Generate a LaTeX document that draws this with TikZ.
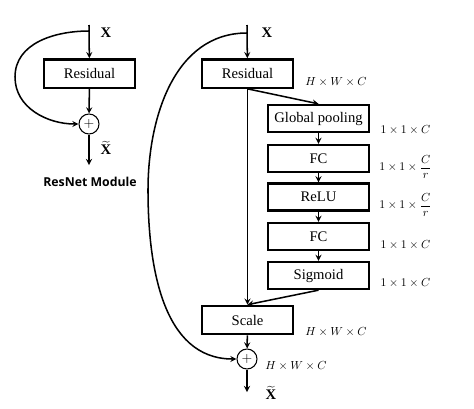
\documentclass[tikz,border=0pt]{standalone}
\usepackage{fontspec}
\usepackage{amsmath}
\setmainfont{Liberation Serif}
\newfontfamily\modfont{Open Sans}
\usetikzlibrary{calc}
\usetikzlibrary{positioning}

\begin{document}
\begin{tikzpicture}[x=0.03cm, y=-0.03cm, >=stealth,
    box/.style={draw, line width=2pt, minimum width=2.73cm, minimum height=0.85cm,
        inner sep=0pt, font=\fontsize{12.5}{14}\selectfont},
    wbox/.style={box, minimum width=3.03cm, minimum height=0.81cm},
    sumnode/.style={draw, circle, line width=0.9pt, minimum size=0.6cm, inner sep=0pt,
        font=\fontsize{12}{14}\selectfont},
    dims/.style={font=\fontsize{10}{12}\selectfont},
    tag/.style={inner sep=1pt, font=\fontsize{12.5}{14}\selectfont},
    line/.style={line width=1.3pt}]
    \useasboundingbox (0,0) rectangle (474,408);

    % ResNet module (left)
    \coordinate (ltop) at (89,25);
    \coordinate (lsplit) at (89,31);
    \coordinate (lbend) at (15,77);
    \coordinate (lout) at (89,165);
    \node[box] (lres) at (89.5,73.5) {Residual};
    \node[sumnode] (lsum) at (89,124) {$+$};
    \node[tag] (lx) at (106,33) {$\mathbf{X}$};
    \node[tag] (lxt) at (106,148) {$\widetilde{\mathbf{X}}$};
    \node (resnet) at (90,182) {\modfont\bfseries\fontsize{10.5}{12}\selectfont ResNet Module};

    \draw[line, ->] (ltop) -- (lres);
    \draw[line, ->] (lres) -- (lsum);
    \draw[line, ->] (lsum) -- (lout);
    \draw[line, ->] (lsplit) to[out=180, in=90] (lbend) to[out=-90, in=180] (lsum.west);

    % SE module (right)
    \coordinate (rtop) at (247,25);
    \coordinate (rsplit) at (247,33);
    \coordinate (rbend) at (148,190);
    \coordinate (rout) at (247,392);
    \node[box] (rres) at (247.5,73.5) {Residual};
    \node[wbox] (gp) at (318.5,118.5) {Global pooling};
    \node[wbox] (fca) at (318.5,158.5) {FC};
    \node[wbox] (relu) at (318.5,197) {ReLU};
    \node[wbox] (fcb) at (318.5,236.5) {FC};
    \node[wbox] (sig) at (318.5,275.5) {Sigmoid};
    \node[box] (scale) at (247.5,320) {Scale};
    \node[sumnode] (rsum) at (247,359) {$+$};
    \node[tag] (rx) at (267,33) {$\mathbf{X}$};
    \node[tag] (rxt) at (271,393) {$\widetilde{\mathbf{X}}$};

    % Shapes of the features
    \node[dims] (dres) at (336,82) {$H\times W\times C$};
    \node[dims] (dgp) at (405.5,130) {$1\times 1\times C$};
    \node[dims] (dfca) at (405.5,167) {$1\times 1\times \dfrac{C}{r}$};
    \node[dims] (drelu) at (405.5,205) {$1\times 1\times \dfrac{C}{r}$};
    \node[dims] (dfcb) at (405.5,245) {$1\times 1\times C$};
    \node[dims] (dsig) at (405.5,283) {$1\times 1\times C$};
    \node[dims] (dscale) at (336,332) {$H\times W\times C$};
    \node[dims] (dsum) at (296,366) {$H\times W\times C$};

    \draw[line, ->] (rtop) -- (rres);
    \draw[line, ->] (rres.south) -- (gp.north);
    \draw[line, ->] (gp) -- (fca);
    \draw[line, ->] (fca) -- (relu);
    \draw[line, ->] (relu) -- (fcb);
    \draw[line, ->] (fcb) -- (sig);
    \draw[line, ->] (sig.south) -- (scale.north);
    \draw[line, ->] (rres) -- (scale);
    \draw[line, ->] (scale) -- (rsum);
    \draw[line, ->] (rsum) -- (rout);
    \draw[line, ->] (rsplit) to[out=180, in=90] (rbend) to[out=-90, in=180] (rsum.west);
\end{tikzpicture}
\end{document}
